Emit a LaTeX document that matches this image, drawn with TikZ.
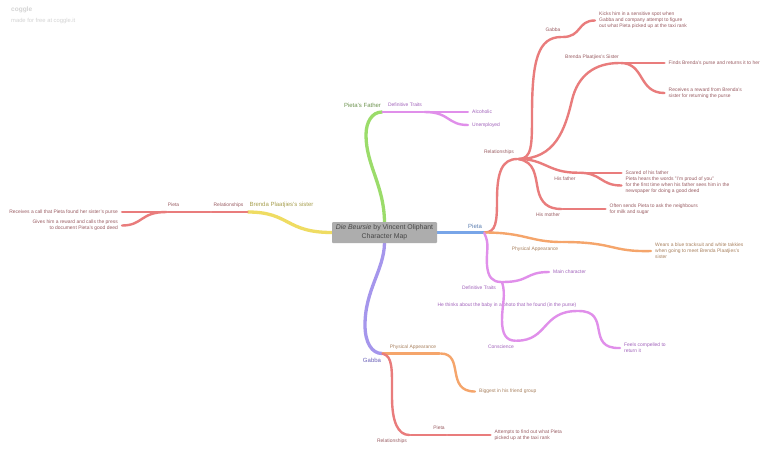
\documentclass[tikz,border=0pt]{standalone}
\usepackage{fontspec}
\setmainfont{Liberation Sans}
\definecolor{cgreen}{HTML}{9BDC6A}
\definecolor{cblue}{HTML}{78A5E8}
\definecolor{cred}{HTML}{E97C7C}
\definecolor{corange}{HTML}{F5A56B}
\definecolor{cpink}{HTML}{E08FEA}
\definecolor{cviolet}{HTML}{A596EC}
\definecolor{cyellow}{HTML}{EFDC62}
\definecolor{tred}{HTML}{985A60}
\definecolor{tpink}{HTML}{A060BA}
\definecolor{torange}{HTML}{A8805E}
\definecolor{tgreen}{HTML}{6E9450}
\definecolor{tblue}{HTML}{5A7DB0}
\definecolor{tviolet}{HTML}{6A60B8}
\definecolor{tyellow}{HTML}{A8A050}
\tikzset{
  x=1pt,y=-1pt,
  small/.style={font=\fontsize{4.95}{6}\selectfont,inner sep=0pt},
  leaf/.style={small,align=left,anchor=west,inner xsep=3.5pt,inner ysep=0pt},
  leafl/.style={small,align=right,anchor=east,inner xsep=3.5pt,inner ysep=0pt},
  lab/.style={small},
  top/.style={font=\fontsize{6}{7}\selectfont,inner sep=0pt},
  br/.style={line width=#1,line cap=round},
  br/.default=2pt,
  wire/.style={br=2.4pt,shorten >=0.6pt,shorten <=0.6pt},
  main/.style={br=3.3pt},
}
\begin{document}
\begin{tikzpicture}
\useasboundingbox (0,0) rectangle (768,456);
\fill[white] (0,0) rectangle (768,456);
% watermark
\node[font=\fontsize{6.5}{8}\selectfont\bfseries,text=black!17,inner sep=0pt,anchor=west] (wm1) at (11,10) {coggle};
\node[font=\fontsize{5.8}{7}\selectfont,text=black!17,inner sep=0pt,anchor=west] (wm2) at (11,21) {made for free at coggle.it};

% junction points
\coordinate (pf) at (382,112);
\coordinate (pfd) at (424,112);
\coordinate (pi) at (484,232.5);
\coordinate (prel) at (518,159);
\coordinate (pgab) at (562,37);
\coordinate (pbre) at (620,63);
\coordinate (pfat) at (578,172.7);
\coordinate (pmot) at (562,209);
\coordinate (ppa) at (562,242);
\coordinate (pdt) at (502,282);
\coordinate (pcon) at (516,340.7);
\coordinate (pthink) at (578,311);
\coordinate (ga) at (382,353.5);
\coordinate (gpa) at (440,353.5);
\coordinate (grel) at (410,435);
\coordinate (gpi) at (447,435);
\coordinate (bs) at (248,212);
\coordinate (brel) at (211,212);
\coordinate (bpi) at (167,212);

% main branches
\draw[main,cgreen] (384.5,222) .. controls (384,185) and (366,165) .. (366,135) .. controls (366,122) and (372,112) .. (pf);
\draw[main,cblue] (437,232.5) -- (pi);
\draw[main,cviolet] (384.5,243) .. controls (384,270) and (365,290) .. (365,325) .. controls (365,343) and (372,353.5) .. (ga);
\draw[main,cyellow] (332,232.5) .. controls (285,232.5) and (290,212) .. (bs);

% text nodes
\node[fill=black!32,rounded corners=1pt,minimum width=105pt,minimum height=21pt,align=center,
  font=\fontsize{6.9}{8.6}\selectfont,text=black!72,inner sep=0pt] (root) at (384.5,232.5) {\textit{Die Beursie} by Vincent Oliphant\\Character Map};

\node[top,text=tgreen] (lpf) at (362.5,105) {Pieta's Father};
\node[lab,text=tpink] (ldt1) at (405,105) {Definitive Traits};
\node[leaf,text=tpink] (alc) at (468.5,112) {Alcoholic};
\node[leaf,text=tpink] (unem) at (468.5,125) {Unemployed};

\node[top,text=tblue] (lpi) at (475,226) {Pieta};
\node[lab,text=tred] (lrel) at (499,152) {Relationships};
\node[lab,text=tred] (lgab) at (553,30) {Gabba};
\node[leaf,text=tred] (kick) at (595.5,20.5) {Kicks him in a sensitive spot when\\Gabba and company attempt to figure\\out what Pieta picked up at the taxi rank};
\node[lab,text=tred] (lbre) at (592,57) {Brenda Plaatjies's Sister};
\node[leaf,text=tred] (finds) at (665,63) {Finds Brenda's purse and returns it to her};
\node[leaf,text=tred] (recv) at (665,93) {Receives a reward from Brenda's\\sister for returning the purse};
\node[lab,text=tred] (lfat) at (565,178.7) {His father};
\node[leaf,text=tred] (scar) at (622,172.7) {Scared of his father};
\node[leaf,text=tred] (hear) at (622,185.5) {Pieta hears the words "I'm proud of you"\\for the first time when his father sees him in the\\newspaper for doing a good deed};
\node[lab,text=tred] (lmot) at (548,215) {His mother};
\node[leaf,text=tred] (oft) at (606,209) {Often sends Pieta to ask the neighbours\\for milk and sugar};

\node[lab,text=torange] (lpa) at (535,249) {Physical Appearance};
\node[leaf,text=torange] (wear) at (651.5,251) {Wears a blue tracksuit and white takkies\\when going to meet Brenda Plaatjies's\\sister};
\node[lab,text=tpink] (ldt2) at (479,288) {Definitive Traits};
\node[leaf,text=tpink] (mainc) at (549.5,272) {Main character};
\node[lab,text=tpink] (lcon) at (501,347) {Conscience};
\node[lab,text=tpink] (lthink) at (507,305) {He thinks about the baby in a photo that he found (in the purse)};
\node[leaf,text=tpink] (feels) at (620.5,348) {Feels compelled to\\return it};

\node[top,text=tviolet] (lga) at (372,360) {Gabba};
\node[lab,text=torange] (lgpa) at (413,347) {Physical Appearance};
\node[leaf,text=torange] (big) at (475.5,391.5) {Biggest in his friend group};
\node[lab,text=tred] (lgrel) at (392,441.7) {Relationships};
\node[lab,text=tred] (lgpi) at (439,428) {Pieta};
\node[leaf,text=tred] (att) at (491,435) {Attempts to find out what Pieta\\picked up at the taxi rank};

\node[top,text=tyellow] (lbs) at (281.5,205) {Brenda Plaatjies's sister};
\node[lab,text=tred] (lbrel) at (228.5,205) {Relationships};
\node[lab,text=tred] (lbpi) at (173.5,205) {Pieta};
\node[leafl,text=tred] (call) at (121.5,212) {Receives a call that Pieta found her sister's purse};
\node[leafl,text=tred] (giv) at (121.5,225.5) {Gives him a reward and calls the press\\to document Pieta's good deed};

% Pieta's Father
\draw[wire,cpink] (pf) -- (pfd);
\draw[wire,cpink] (pfd) -- (alc.west);
\draw[wire,cpink] (pfd) .. controls (450,112) and (447,125) .. (unem.west);

% Pieta / relationships
\draw[wire,cred] (pi) .. controls (496,232.5) and (497,222) .. (497,200) .. controls (497,172) and (502,159) .. (prel);
\draw[wire,cred] (prel) .. controls (532,159) and (532,145) .. (532,115) .. controls (532,60) and (538,37) .. (pgab);
\draw[wire,cred] (pgab) .. controls (582,37) and (577,20.5) .. (kick.west);
\draw[wire,cred] (prel) .. controls (555,159) and (565,130) .. (572,100) .. controls (578,75) and (595,63) .. (pbre);
\draw[wire,cred] (pbre) -- (finds.west);
\draw[wire,cred] (pbre) .. controls (645,63) and (638,93) .. (recv.west);
\draw[wire,cred] (prel) .. controls (545,159) and (548,172.7) .. (pfat);
\draw[wire,cred] (pfat) -- (scar.west);
\draw[wire,cred] (pfat) .. controls (602,172.7) and (600,185.5) .. (hear.west);
\draw[wire,cred] (prel) .. controls (535,162) and (535,175) .. (538,190) .. controls (541,203) and (548,209) .. (pmot);
\draw[wire,cred] (pmot) -- (oft.west);

% Pieta / physical
\draw[wire,corange] (pi) .. controls (525,232.5) and (530,242) .. (ppa);
\draw[wire,corange] (ppa) .. controls (615,242) and (610,252) .. (wear.west);

% Pieta / definitive traits
\draw[wire,cpink] (pi) .. controls (490,245) and (486,250) .. (487,265) .. controls (488,277) and (492,282) .. (pdt);
\draw[wire,cpink] (pdt) .. controls (530,282) and (525,272) .. (mainc.west);
\draw[wire,cpink] (pdt) .. controls (506,295) and (502,305) .. (502,320) .. controls (502,334) and (506,340.7) .. (pcon);
\draw[wire,cpink] (pcon) .. controls (548,340.7) and (542,311) .. (pthink);
\draw[wire,cpink] (pthink) .. controls (612,311) and (585,349) .. (feels.west);

% Gabba
\draw[wire,corange] (ga) -- (gpa);
\draw[wire,corange] (gpa) .. controls (465,353.5) and (445,391.5) .. (big.west);
\draw[wire,cred] (ga) .. controls (393,356) and (392,370) .. (392,397) .. controls (392,422) and (398,435) .. (grel);
\draw[wire,cred] (grel) -- (gpi);
\draw[wire,cred] (gpi) -- (att.west);

% Brenda (left)
\draw[wire,cred] (bs) -- (brel);
\draw[wire,cred] (brel) -- (bpi);
\draw[wire,cred] (bpi) -- (call.east);
\draw[wire,cred] (bpi) .. controls (140,212) and (143,225.5) .. (giv.east);
\end{tikzpicture}
\end{document}
